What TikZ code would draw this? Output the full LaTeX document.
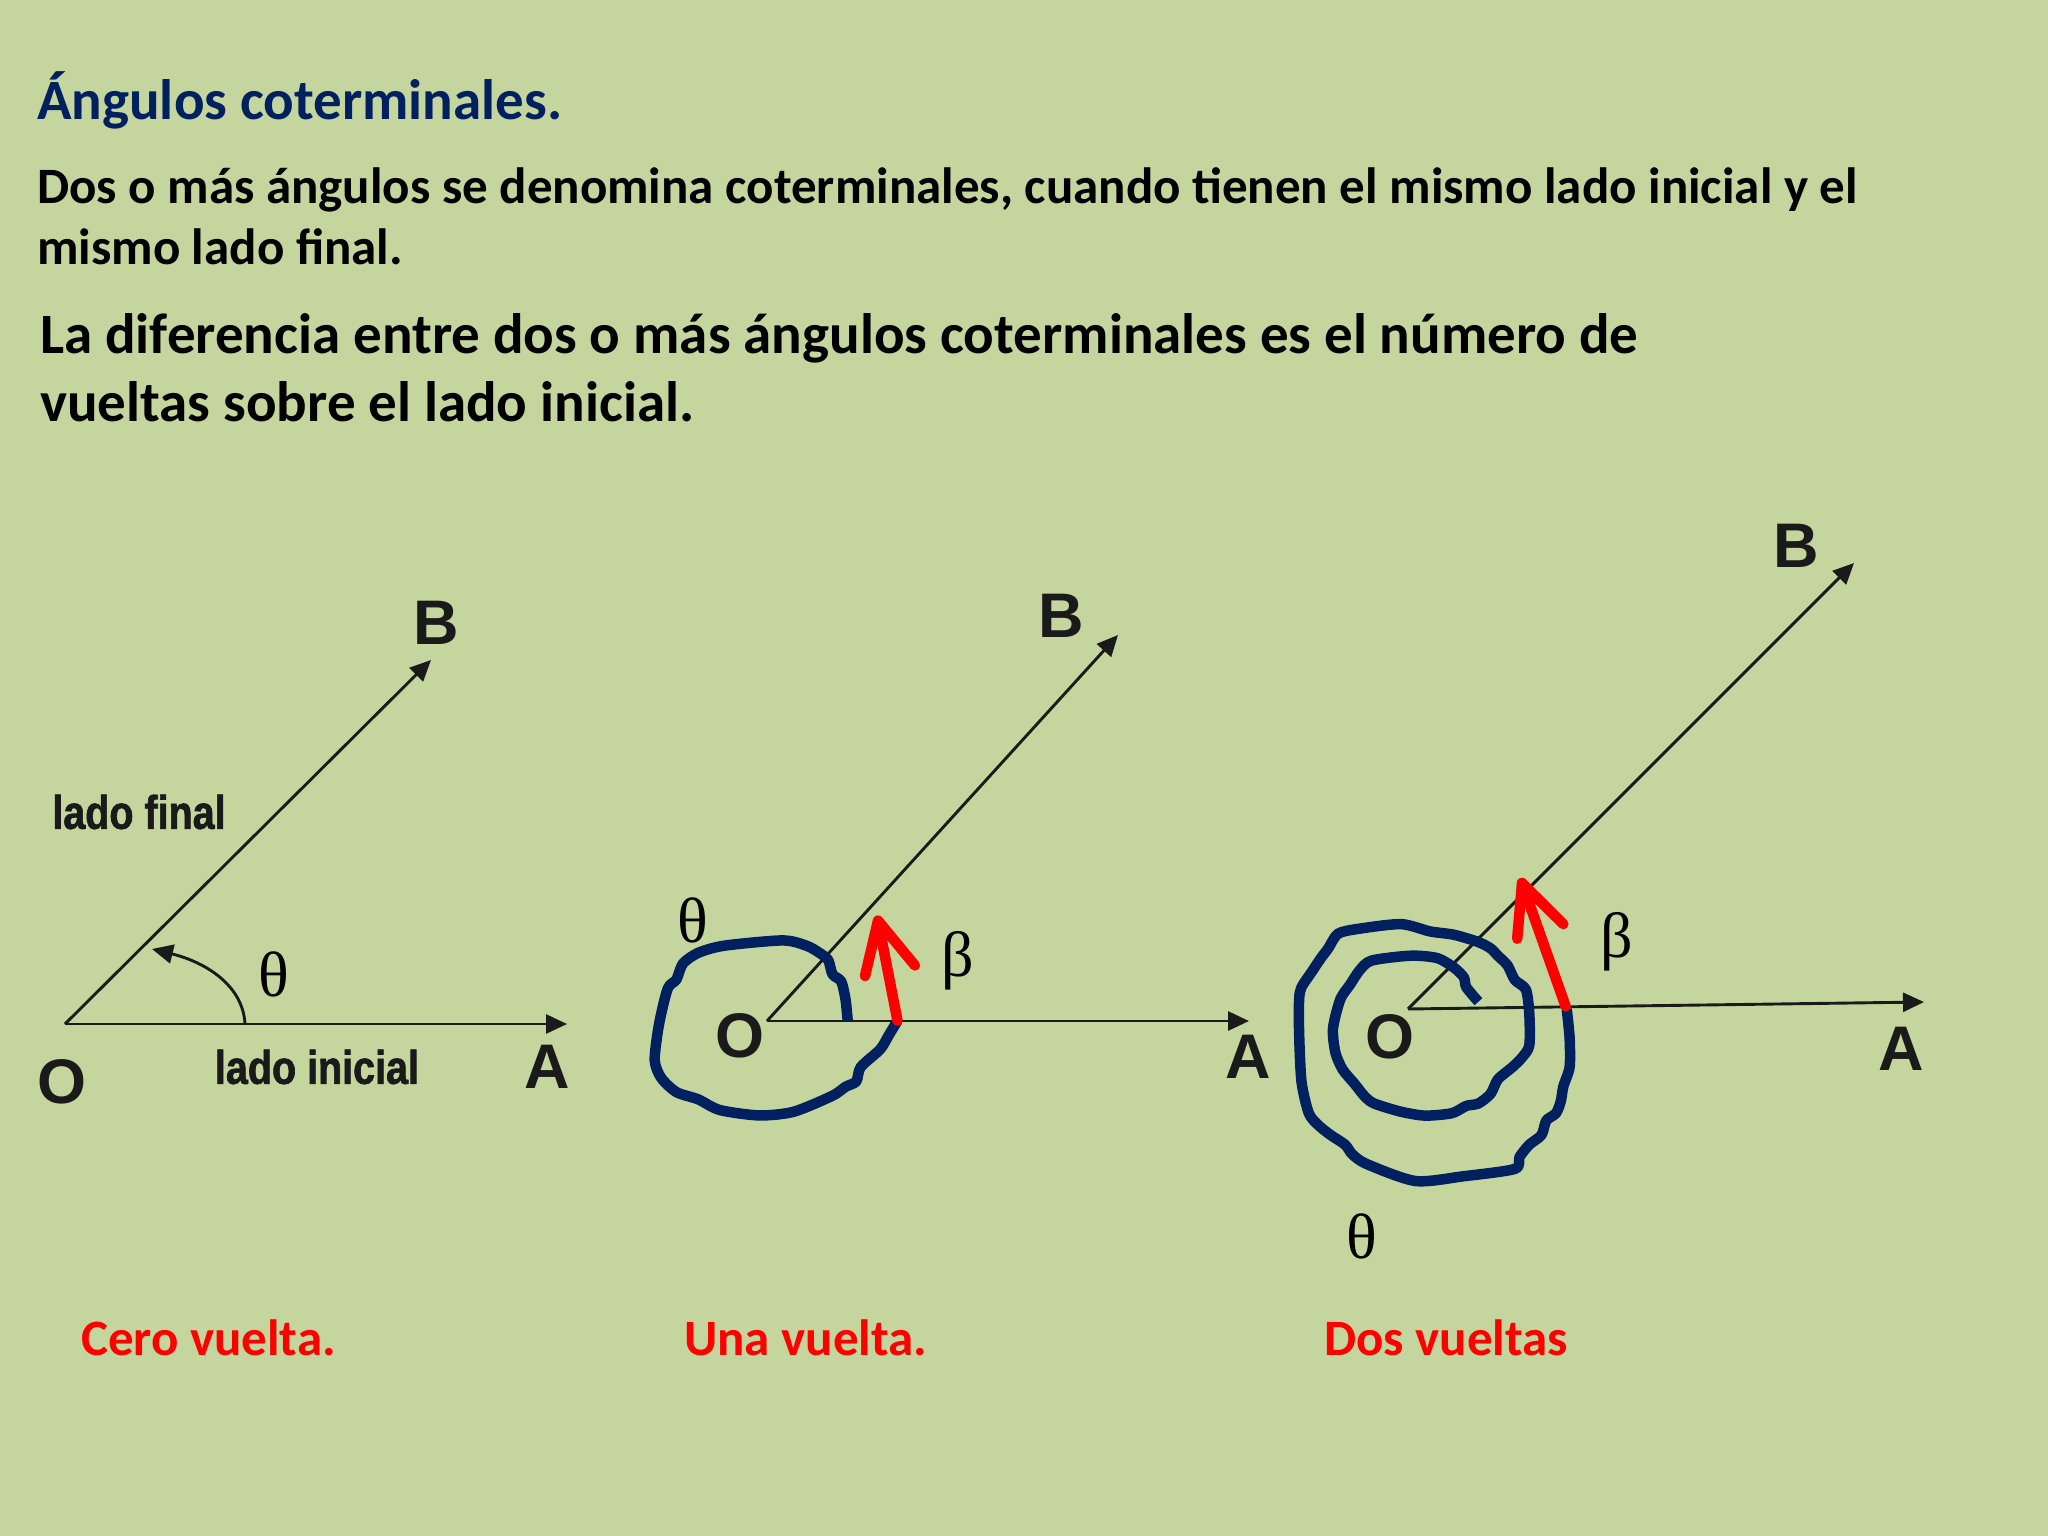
\documentclass[tikz,border=0pt]{standalone}
\usepackage{fontspec}
\setmainfont{Carlito}
\newfontfamily\lblfont{Liberation Sans}
\newfontfamily\heavyfont[FakeBold=1.6]{Liberation Sans Bold}
\newfontfamily\grkfont{Liberation Serif}
\usetikzlibrary{arrows.meta}
\definecolor{bgc}{HTML}{C4D69E}
\definecolor{navy}{HTML}{002060}
\definecolor{redc}{HTML}{FF0000}
\definecolor{inkc}{HTML}{1A1A1A}
\tikzset{
  txt/.style={anchor=base west, inner sep=0pt, font=\bfseries\fontsize{51}{60}\selectfont},
  ttl/.style={anchor=base west, inner sep=0pt, text=navy, font=\bfseries\fontsize{57}{68}\selectfont},
  big/.style={anchor=base west, inner sep=0pt, font=\bfseries\fontsize{57}{68}\selectfont},
  redlbl/.style={anchor=base west, inner sep=0pt, text=redc, font=\bfseries\fontsize{51}{60}\selectfont},
  pt/.style={inner sep=0pt, text=inkc, font=\lblfont\bfseries\fontsize{63}{63}\selectfont},
  side/.style={inner sep=0pt, text=inkc, font=\heavyfont\fontsize{47}{47}\selectfont},
  grk/.style={inner sep=0pt, text=black, font=\grkfont\fontsize{64}{64}\selectfont},
  ray/.style={draw=inkc, line width=2.9pt, -{Triangle[length=21pt,width=19pt]}},
  loop/.style={draw=navy, line width=10.5pt, line join=round},
  redarrow/.style={draw=redc, line width=10.5pt, line cap=round, line join=round}
}
\begin{document}
\begin{tikzpicture}[x=1pt,y=-1pt]
\fill[bgc] (0,0) rectangle (2048,1536);
\useasboundingbox (0,0) rectangle (2048,1536);

% texts
\node[ttl] (title) at (37,120) {Ángulos coterminales.};
\node[txt] (l1) at (37,203.3) {Dos o más ángulos se denomina coterminales, cuando tienen el mismo lado inicial y el};
\node[txt] (l2) at (37,264) {mismo lado final.};
\node[big] (l3) at (40,353.5) {La diferencia entre dos o más ángulos coterminales es el número de};
\node[big] (l4) at (40,421.7) {vueltas sobre el lado inicial.};

\node[redlbl] (r1) at (81,1355) {Cero vuelta.};
\node[redlbl] (r2) at (684,1355) {Una vuelta.};
\node[redlbl] (r3) at (1324,1355) {Dos vueltas};

% ---------- diagram 1
\coordinate (O1) at (65,1024);
\coordinate (A1) at (567,1024);
\coordinate (B1) at (431,660);
\coordinate (a1s) at (245,1024);
\coordinate (a1e) at (152,949);
\draw[ray] (O1) -- (A1);
\draw[ray] (O1) -- (B1);
\draw[ray] (a1s) .. controls (243,985) and (205,962) .. (a1e);
\node[pt] (labB1) at (436,623) {B};
\node[pt] (labA1) at (547.5,1067) {A};
\node[pt] (labO1) at (62,1082) {O};
\node[grk] (th1) at (274,974) {θ};
\node[side] (lf) at (139,812) {\scalebox{0.84}[1]{lado final}};
\node[side] (li) at (317,1067) {\scalebox{0.84}[1]{lado inicial}};

% ---------- diagram 2
\coordinate (O2) at (767,1021);
\coordinate (A2) at (1249,1021);
\coordinate (B2) at (1118,635);
\draw[ray] (O2) -- (A2);
\draw[ray] (O2) -- (B2);
\draw[loop] plot[smooth, tension=0.45] coordinates {
 (847.7,1020.7) (845.5,999.3) (841.2,981.4) (832.5,974.3) (828.2,960)
 (819.5,952.9) (806.5,945.7) (782.6,940.4) (724.1,945.7) (698.1,952.9)
 (682.9,963.6) (676.4,979.6) (667.7,988.6) (659,1024.3) (654.7,1060)
 (661.2,1077.9) (676.4,1092.1) (698.1,1099.3) (719.7,1110) (758.8,1115.4)
 (793.5,1111.8) (832.5,1095.7) (845.5,1086.8) (856.3,1081.4) (860.7,1067.1)
 (880.2,1049.3) (888.9,1035) (897.5,1020.7)};
\coordinate (r2b) at (897.5,1020.7);
\coordinate (r2t) at (878,920.7);
\coordinate (r2l) at (865,976);
\coordinate (r2r) at (914.9,965.4);
\draw[redarrow] (r2b) -- (r2t);
\draw[redarrow] (r2l) -- (r2t) -- (r2r);
\node[pt] (labB2) at (1061,616) {B};
\node[pt] (labA2) at (1248,1057) {A};
\node[pt] (labO2) at (740,1036) {O};
\node[grk] (th2) at (692.5,920) {θ};
\node[grk] (be2) at (958,961) {β};

% ---------- diagram 3
\coordinate (O3) at (1408,1009);
\coordinate (A3) at (1924,1002);
\coordinate (B3) at (1854,563);
\draw[ray] (O3) -- (A3);
\draw[ray] (O3) -- (B3);
\draw[loop] plot[smooth, tension=0.45] coordinates {
 (1478.4,1001.7) (1466.3,987.2) (1463.9,977.5) (1454.2,967.8) (1437.2,958.1)
 (1410.6,955.7) (1371.8,960.5) (1359.7,970.2) (1350,984.7) (1340.3,999.3)
 (1333,1028.4) (1335.4,1052.6) (1342.7,1069.6) (1354.8,1084.1) (1364.5,1096.2)
 (1374.2,1103.5) (1400.9,1111.7) (1425.1,1115.6) (1451.8,1113.2) (1466.3,1105.9)
 (1478.4,1103.5) (1490.6,1093.8) (1497.9,1079.3) (1512.4,1067.1) (1522.1,1057.4)
 (1529.3,1045.3) (1529.3,1013.8) (1525.9,989.6) (1514.8,979.9) (1507.5,965.3)
 (1497.8,955.7) (1490.6,948.4) (1478.4,942.1) (1454.2,934.8) (1430,931.4)
 (1400.9,924.1) (1357.3,929) (1337.9,933.8) (1328.2,948.4) (1320.9,958.1)
 (1311.2,972.6) (1301.5,987.2) (1299.1,999.3) (1299.1,1033.2) (1301.5,1081.7)
 (1308.8,1113.2) (1318.5,1125.3) (1330.6,1135) (1345.1,1144.7) (1352.4,1154.4)
 (1366.9,1164.1) (1415.4,1181) (1463.9,1176.2) (1514.8,1168.9) (1519.6,1156.8)
 (1529.3,1144.7) (1541.5,1135) (1546.3,1120.5) (1556,1113.2) (1560.8,1101.1)
 (1563.3,1086.5) (1569.6,1067.1) (1569.6,1038) (1566.7,1009)};
\coordinate (r3b) at (1565.7,1006.5);
\coordinate (r3t) at (1522,883);
\coordinate (r3l) at (1517.2,938.7);
\coordinate (r3r) at (1563.3,924.1);
\draw[redarrow] (r3b) -- (r3t);
\draw[redarrow] (r3l) -- (r3t) -- (r3r);
\node[pt] (labB3) at (1796,546) {B};
\node[pt] (labA3) at (1901,1049) {A};
\node[pt] (labO3) at (1390,1037) {O};
\node[grk] (be3) at (1616.5,942) {β};
\node[grk] (th3) at (1362,1236) {θ};
\end{tikzpicture}
\end{document}
